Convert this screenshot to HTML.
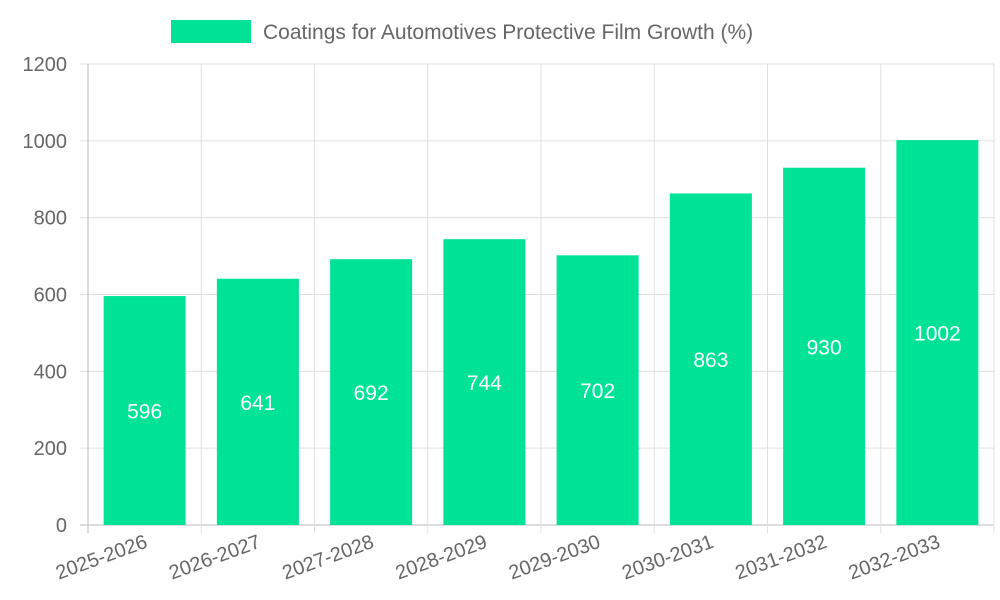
<!DOCTYPE html>
<html><head><meta charset="utf-8"><style>body{margin:0;background:#fff}svg{display:block;font-family:"Liberation Sans",sans-serif}</style></head>
<body>
<svg id="chart" width="1000" height="600" xmlns="http://www.w3.org/2000/svg">
<g>
<rect x="171" y="20" width="80" height="23" fill="#00e396"/>
<text x="263" y="39" font-size="21" fill="#666">Coatings for Automotives Protective Film Growth (%)</text>
</g>
<g id="grid"></g><g id="bars"></g><g id="labels"></g>
</svg>
<script>
const categories=["2025-2026","2026-2027","2027-2028","2028-2029","2029-2030","2030-2031","2031-2032","2032-2033"];
const values=[596,641,692,744,702,863,930,1002];
const yTicks=[0,200,400,600,800,1000,1200];
const NS="http://www.w3.org/2000/svg";
const L=88,R=994,T=64,B=525,yMax=1200;
const bw=(R-L)/categories.length;
const y=v=>B-(v/yMax)*(B-T);
const x=i=>L+bw*i;
function mk(tag,attrs,parent,txt){const e=document.createElementNS(NS,tag);for(const k in attrs)e.setAttribute(k,attrs[k]);if(txt!=null)e.textContent=txt;document.getElementById(parent).appendChild(e);return e;}
yTicks.forEach(t=>{
 const g=mk('line',{x1:80,x2:R,y1:y(t),y2:y(t),stroke:t===0?'#bbb':'#e0e0e0','stroke-width':1},'grid');
 
 
 const tx=mk('text',{x:67,y:y(t)+7,'text-anchor':'end','font-size':20,fill:'#666'},'grid',t);
 
 
});
for(let i=0;i<=categories.length;i++){
 const g=mk('line',{x1:x(i),x2:x(i),y1:T,y2:B+8,stroke:i===0?'#bbb':'#e0e0e0','stroke-width':1},'grid');
 
 
}
categories.forEach((c,i)=>{
 const cx=x(i)+bw/2,w=82;
 const r=mk('rect',{x:cx-w/2,y:y(values[i]),width:w,height:B-y(values[i]),fill:'#00e396'},'bars');
 
 
 const v=mk('text',{x:cx,y:(y(values[i])+B)/2+8,'text-anchor':'middle','font-size':21,fill:'#fff'},'labels',values[i]);
 
 
 const t=mk('text',{x:cx+4,y:547,'text-anchor':'end','font-size':20,fill:'#666',transform:`rotate(-20 ${cx+4} 547)`},'labels',c);
 
 
});
</script>
</body></html>
